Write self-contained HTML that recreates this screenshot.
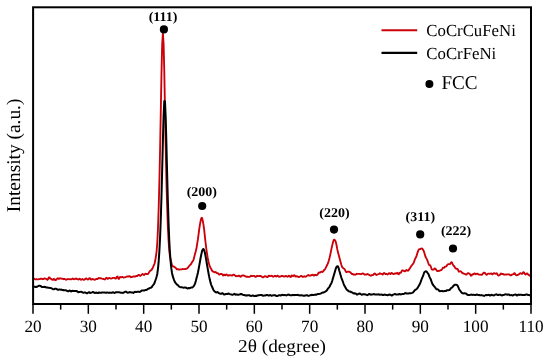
<!DOCTYPE html>
<html><head><meta charset="utf-8"><title>XRD</title>
<style>html,body{margin:0;padding:0;background:#fff;} svg{display:block;text-rendering:geometricPrecision;}</style>
</head><body>
<svg width="550" height="362" viewBox="0 0 550 362">
<rect width="550" height="362" fill="#fff"/>
<g fill="none" stroke-linejoin="round" stroke-linecap="round">
<path d="M33.4,279.0 L34.1,278.7 L34.8,279.2 L35.5,279.3 L36.2,279.0 L36.9,279.3 L37.6,279.4 L38.3,279.3 L39.0,279.2 L39.7,279.1 L40.4,278.7 L41.1,278.6 L41.8,278.9 L42.5,279.2 L43.2,279.1 L43.9,278.7 L44.6,278.5 L45.3,278.7 L46.0,278.9 L46.7,279.2 L47.4,279.9 L48.1,279.2 L48.8,277.4 L49.5,277.4 L50.2,278.4 L50.9,278.9 L51.6,279.1 L52.3,279.8 L53.0,279.9 L53.7,278.9 L54.4,279.1 L55.1,280.2 L55.8,280.1 L56.5,279.5 L57.2,278.6 L57.9,278.2 L58.6,278.8 L59.3,278.9 L60.0,278.3 L60.7,278.4 L61.4,278.7 L62.1,278.6 L62.8,278.9 L63.5,279.2 L64.2,279.0 L64.9,279.0 L65.6,279.5 L66.3,279.8 L67.0,279.3 L67.7,279.0 L68.4,279.2 L69.1,279.3 L69.8,279.2 L70.5,279.1 L71.2,279.4 L71.9,279.1 L72.6,278.5 L73.3,278.8 L74.0,279.3 L74.7,279.2 L75.4,278.6 L76.1,278.5 L76.8,279.0 L77.5,279.2 L78.2,279.5 L78.9,279.3 L79.6,278.7 L80.3,279.3 L81.0,279.9 L81.7,279.3 L82.4,279.0 L83.1,279.5 L83.8,279.9 L84.5,279.7 L85.2,279.0 L85.9,278.4 L86.6,278.7 L87.3,279.2 L88.0,279.6 L88.7,279.1 L89.4,278.1 L90.1,278.4 L90.8,279.5 L91.5,279.6 L92.2,279.0 L92.9,279.1 L93.6,279.4 L94.3,279.7 L95.0,279.7 L95.7,279.3 L96.4,278.9 L97.1,279.1 L97.8,278.8 L98.5,278.0 L99.2,278.2 L99.9,278.4 L100.6,278.2 L101.3,278.4 L102.0,278.7 L102.7,278.9 L103.4,279.0 L104.1,279.2 L104.8,279.5 L105.5,278.8 L106.2,277.8 L106.9,277.9 L107.6,278.9 L108.3,278.6 L109.0,278.0 L109.7,278.2 L110.4,278.4 L111.1,278.6 L111.8,278.4 L112.5,278.0 L113.2,277.9 L113.9,277.9 L114.6,277.8 L115.3,278.5 L116.0,278.5 L116.7,276.9 L117.4,276.4 L118.1,278.1 L118.8,279.0 L119.5,277.5 L120.2,276.9 L120.9,277.4 L121.6,277.1 L122.3,276.9 L123.0,277.3 L123.7,277.5 L124.4,277.3 L125.1,277.3 L125.8,277.0 L126.5,276.6 L127.2,276.5 L127.9,276.5 L128.6,276.5 L129.3,276.1 L130.0,276.4 L130.7,277.3 L131.4,277.1 L132.1,276.8 L132.8,276.8 L133.5,276.4 L134.2,276.4 L134.9,276.6 L135.6,276.3 L136.3,275.9 L137.0,276.1 L137.7,275.7 L138.4,275.0 L139.1,274.9 L139.8,275.6 L140.5,275.9 L141.2,275.2 L141.9,274.4 L142.6,273.9 L143.3,274.5 L144.0,275.0 L144.7,274.3 L145.4,273.7 L146.1,273.9 L146.8,274.0 L147.5,274.1 L148.2,273.9 L148.9,272.6 L149.6,271.4 L150.3,270.8 L151.0,270.3 L151.7,269.6 L152.4,268.6 L153.1,267.0 L153.8,265.3 L154.5,263.8 L155.2,260.8 L155.9,256.5 L156.6,251.3 L157.3,242.4 L158.0,228.0 L158.7,207.3 L159.4,180.8 L160.1,148.7 L160.8,110.7 L161.5,72.4 L162.2,43.8 L162.9,33.0 L163.6,43.6 L164.3,72.2 L165.0,109.5 L165.7,147.4 L166.4,179.8 L167.1,205.3 L167.8,225.3 L168.5,239.8 L169.2,249.8 L169.9,256.1 L170.6,259.6 L171.3,262.2 L172.0,265.1 L172.7,266.4 L173.4,266.3 L174.1,266.8 L174.8,267.4 L175.5,267.7 L176.2,268.5 L176.9,269.4 L177.6,269.2 L178.3,269.2 L179.0,269.6 L179.7,269.5 L180.4,269.4 L181.1,269.4 L181.8,269.3 L182.5,269.0 L183.2,269.1 L183.9,269.2 L184.6,269.1 L185.3,269.0 L186.0,268.9 L186.7,268.7 L187.4,268.1 L188.1,267.3 L188.8,266.5 L189.5,265.6 L190.2,264.9 L190.9,264.3 L191.6,263.0 L192.3,261.8 L193.0,260.9 L193.7,259.3 L194.4,256.4 L195.1,253.5 L195.8,251.3 L196.5,248.0 L197.2,243.6 L197.9,239.4 L198.6,234.1 L199.3,228.6 L200.0,224.2 L200.7,220.6 L201.4,218.0 L202.1,218.0 L202.8,221.0 L203.5,224.8 L204.2,229.9 L204.9,236.6 L205.6,242.9 L206.3,248.5 L207.0,253.4 L207.7,257.7 L208.4,261.2 L209.1,264.0 L209.8,266.4 L210.5,267.8 L211.2,268.9 L211.9,270.4 L212.6,271.4 L213.3,271.6 L214.0,272.0 L214.7,272.4 L215.4,272.0 L216.1,272.4 L216.8,273.0 L217.5,273.1 L218.2,273.6 L218.9,274.3 L219.6,274.5 L220.3,274.0 L221.0,274.0 L221.7,274.0 L222.4,274.3 L223.1,275.6 L223.8,275.1 L224.5,274.6 L225.2,275.3 L225.9,274.8 L226.6,274.4 L227.3,275.3 L228.0,275.7 L228.7,275.2 L229.4,275.2 L230.1,275.3 L230.8,275.2 L231.5,275.5 L232.2,275.5 L232.9,274.9 L233.6,274.6 L234.3,274.9 L235.0,275.4 L235.7,276.0 L236.4,276.2 L237.1,276.2 L237.8,276.1 L238.5,275.7 L239.2,275.6 L239.9,276.4 L240.6,276.8 L241.3,276.0 L242.0,275.5 L242.7,275.6 L243.4,275.5 L244.1,275.6 L244.8,275.9 L245.5,276.4 L246.2,276.8 L246.9,276.7 L247.6,276.7 L248.3,276.8 L249.0,276.8 L249.7,276.9 L250.4,276.3 L251.1,275.8 L251.8,276.1 L252.5,276.0 L253.2,275.8 L253.9,275.8 L254.6,276.1 L255.3,276.9 L256.0,276.8 L256.7,276.0 L257.4,275.9 L258.1,276.1 L258.8,276.1 L259.5,275.8 L260.2,275.8 L260.9,276.1 L261.6,276.5 L262.3,277.2 L263.0,277.4 L263.7,276.9 L264.4,276.4 L265.1,276.1 L265.8,276.5 L266.5,276.7 L267.2,277.1 L267.9,276.8 L268.6,275.7 L269.3,275.7 L270.0,276.1 L270.7,276.1 L271.4,275.7 L272.1,275.8 L272.8,276.5 L273.5,276.7 L274.2,276.3 L274.9,275.8 L275.6,276.0 L276.3,276.6 L277.0,276.1 L277.7,275.6 L278.4,276.3 L279.1,276.9 L279.8,276.7 L280.5,276.5 L281.2,276.2 L281.9,276.0 L282.6,276.0 L283.3,276.2 L284.0,276.6 L284.7,276.6 L285.4,276.0 L286.1,275.9 L286.8,276.4 L287.5,276.8 L288.2,276.4 L288.9,275.7 L289.6,276.1 L290.3,277.0 L291.0,276.8 L291.7,275.5 L292.4,275.6 L293.1,276.2 L293.8,275.4 L294.5,275.2 L295.2,276.3 L295.9,276.6 L296.6,276.2 L297.3,276.3 L298.0,276.8 L298.7,277.0 L299.4,276.9 L300.1,276.5 L300.8,276.0 L301.5,275.9 L302.2,276.5 L302.9,277.0 L303.6,276.7 L304.3,276.2 L305.0,276.6 L305.7,276.7 L306.4,276.2 L307.1,275.8 L307.8,275.4 L308.5,275.0 L309.2,275.6 L309.9,275.7 L310.6,275.5 L311.3,275.4 L312.0,274.8 L312.7,274.6 L313.4,275.3 L314.1,275.6 L314.8,274.8 L315.5,274.9 L316.2,275.3 L316.9,275.1 L317.6,274.6 L318.3,273.1 L319.0,272.4 L319.7,272.8 L320.4,272.4 L321.1,271.8 L321.8,271.6 L322.5,272.0 L323.2,271.4 L323.9,270.3 L324.6,269.7 L325.3,268.7 L326.0,267.3 L326.7,265.9 L327.4,264.5 L328.1,262.9 L328.8,260.6 L329.5,258.0 L330.2,255.1 L330.9,251.5 L331.6,248.1 L332.3,245.1 L333.0,242.2 L333.7,240.0 L334.4,239.6 L335.1,240.3 L335.8,241.9 L336.5,245.0 L337.2,248.9 L337.9,252.1 L338.6,254.5 L339.3,257.2 L340.0,259.8 L340.7,262.4 L341.4,265.0 L342.1,266.9 L342.8,267.8 L343.5,268.3 L344.2,268.7 L344.9,269.7 L345.6,271.2 L346.3,272.2 L347.0,272.1 L347.7,271.6 L348.4,271.7 L349.1,271.7 L349.8,271.9 L350.5,272.4 L351.2,273.4 L351.9,274.0 L352.6,274.0 L353.3,274.5 L354.0,274.7 L354.7,274.4 L355.4,274.7 L356.1,274.4 L356.8,273.8 L357.5,273.9 L358.2,273.9 L358.9,273.8 L359.6,273.9 L360.3,274.2 L361.0,274.1 L361.7,273.8 L362.4,273.5 L363.1,273.5 L363.8,274.1 L364.5,274.6 L365.2,274.5 L365.9,274.6 L366.6,274.5 L367.3,274.0 L368.0,274.1 L368.7,274.7 L369.4,275.0 L370.1,275.4 L370.8,275.7 L371.5,275.2 L372.2,275.1 L372.9,275.2 L373.6,274.4 L374.3,273.6 L375.0,273.5 L375.7,274.4 L376.4,275.0 L377.1,274.7 L377.8,274.3 L378.5,274.2 L379.2,273.9 L379.9,273.3 L380.6,273.8 L381.3,273.9 L382.0,274.0 L382.7,274.6 L383.4,273.7 L384.1,272.9 L384.8,273.5 L385.5,274.1 L386.2,274.0 L386.9,274.2 L387.6,274.5 L388.3,273.9 L389.0,273.1 L389.7,273.6 L390.4,274.1 L391.1,273.3 L391.8,272.9 L392.5,273.5 L393.2,274.0 L393.9,274.0 L394.6,273.6 L395.3,273.2 L396.0,273.6 L396.7,273.3 L397.4,272.8 L398.1,273.9 L398.8,274.2 L399.5,272.9 L400.2,272.7 L400.9,272.7 L401.6,271.3 L402.3,270.3 L403.0,270.5 L403.7,270.8 L404.4,271.1 L405.1,271.3 L405.8,270.7 L406.5,269.9 L407.2,270.4 L407.9,270.8 L408.6,270.2 L409.3,269.1 L410.0,268.1 L410.7,267.0 L411.4,265.8 L412.1,265.0 L412.8,264.2 L413.5,263.2 L414.2,261.4 L414.9,259.2 L415.6,258.1 L416.3,256.7 L417.0,254.2 L417.7,252.1 L418.4,250.3 L419.1,249.1 L419.8,249.1 L420.5,249.1 L421.2,248.6 L421.9,248.4 L422.6,249.1 L423.3,250.2 L424.0,251.7 L424.7,254.1 L425.4,256.5 L426.1,257.9 L426.8,259.1 L427.5,260.7 L428.2,262.8 L428.9,264.7 L429.6,265.1 L430.3,265.4 L431.0,267.3 L431.7,269.2 L432.4,269.7 L433.1,269.8 L433.8,269.4 L434.5,268.5 L435.2,268.5 L435.9,269.3 L436.6,270.3 L437.3,271.0 L438.0,271.0 L438.7,270.9 L439.4,270.9 L440.1,270.4 L440.8,270.1 L441.5,270.1 L442.2,268.9 L442.9,267.6 L443.6,267.9 L444.3,267.7 L445.0,266.6 L445.7,266.6 L446.4,266.4 L447.1,265.1 L447.8,264.3 L448.5,264.1 L449.2,264.1 L449.9,264.2 L450.6,263.3 L451.3,262.1 L452.0,262.5 L452.7,264.2 L453.4,265.6 L454.1,266.1 L454.8,267.1 L455.5,268.4 L456.2,268.7 L456.9,268.7 L457.6,269.0 L458.3,270.5 L459.0,271.7 L459.7,271.4 L460.4,271.2 L461.1,271.6 L461.8,272.5 L462.5,273.2 L463.2,273.2 L463.9,273.6 L464.6,273.9 L465.3,274.2 L466.0,274.6 L466.7,274.3 L467.4,273.5 L468.1,273.1 L468.8,273.3 L469.5,273.7 L470.2,274.5 L470.9,275.7 L471.6,275.5 L472.3,274.3 L473.0,274.2 L473.7,274.3 L474.4,273.4 L475.1,273.6 L475.8,274.3 L476.5,273.8 L477.2,273.6 L477.9,274.1 L478.6,274.5 L479.3,274.6 L480.0,274.6 L480.7,274.7 L481.4,274.7 L482.1,274.7 L482.8,273.8 L483.5,272.9 L484.2,272.6 L484.9,272.9 L485.6,273.9 L486.3,274.8 L487.0,274.6 L487.7,273.8 L488.4,273.6 L489.1,273.7 L489.8,273.9 L490.5,273.7 L491.2,273.4 L491.9,274.1 L492.6,274.3 L493.3,273.5 L494.0,273.2 L494.7,273.4 L495.4,273.8 L496.1,273.6 L496.8,273.2 L497.5,274.5 L498.2,275.5 L498.9,275.3 L499.6,275.1 L500.3,274.2 L501.0,273.5 L501.7,274.1 L502.4,274.0 L503.1,273.9 L503.8,274.6 L504.5,274.7 L505.2,274.5 L505.9,274.6 L506.6,274.5 L507.3,274.4 L508.0,274.4 L508.7,274.3 L509.4,274.5 L510.1,275.1 L510.8,275.4 L511.5,275.1 L512.2,274.4 L512.9,274.3 L513.6,274.2 L514.3,273.1 L515.0,273.6 L515.7,274.9 L516.4,275.3 L517.1,275.1 L517.8,274.8 L518.5,274.6 L519.2,274.0 L519.9,273.3 L520.6,273.2 L521.3,273.7 L522.0,274.0 L522.7,273.2 L523.4,272.1 L524.1,272.5 L524.8,273.9 L525.5,274.5 L526.2,274.1 L526.9,273.4 L527.6,273.7 L528.3,274.8 L529.0,275.0 L529.7,275.6 L530.4,275.9" stroke="#cc0008" stroke-width="1.85"/>
<path d="M33.4,286.4 L34.1,286.6 L34.8,286.8 L35.5,287.0 L36.2,287.0 L36.9,286.7 L37.6,286.5 L38.3,286.1 L39.0,285.7 L39.7,285.7 L40.4,285.9 L41.1,286.4 L41.8,286.9 L42.5,287.0 L43.2,286.9 L43.9,286.9 L44.6,286.8 L45.3,286.9 L46.0,287.4 L46.7,287.5 L47.4,287.6 L48.1,287.7 L48.8,287.7 L49.5,287.9 L50.2,288.1 L50.9,288.1 L51.6,288.3 L52.3,288.8 L53.0,289.2 L53.7,289.3 L54.4,289.0 L55.1,288.7 L55.8,288.7 L56.5,288.9 L57.2,289.4 L57.9,289.8 L58.6,289.7 L59.3,289.5 L60.0,289.6 L60.7,289.7 L61.4,289.6 L62.1,289.9 L62.8,290.2 L63.5,290.1 L64.2,290.2 L64.9,290.3 L65.6,290.2 L66.3,290.4 L67.0,290.8 L67.7,291.2 L68.4,291.2 L69.1,290.7 L69.8,290.5 L70.5,291.2 L71.2,291.4 L71.9,290.9 L72.6,290.8 L73.3,290.9 L74.0,290.9 L74.7,290.9 L75.4,290.9 L76.1,291.0 L76.8,291.1 L77.5,291.6 L78.2,292.2 L78.9,292.1 L79.6,292.1 L80.3,291.9 L81.0,291.7 L81.7,291.9 L82.4,292.4 L83.1,292.7 L83.8,292.7 L84.5,292.4 L85.2,292.4 L85.9,292.8 L86.6,293.3 L87.3,293.3 L88.0,292.7 L88.7,292.2 L89.4,292.3 L90.1,292.9 L90.8,292.8 L91.5,292.6 L92.2,292.3 L92.9,291.9 L93.6,292.1 L94.3,292.8 L95.0,293.0 L95.7,292.7 L96.4,292.6 L97.1,293.0 L97.8,293.1 L98.5,292.6 L99.2,292.5 L99.9,292.7 L100.6,292.8 L101.3,292.7 L102.0,292.5 L102.7,292.4 L103.4,292.5 L104.1,292.5 L104.8,292.5 L105.5,292.7 L106.2,292.7 L106.9,292.5 L107.6,292.6 L108.3,292.8 L109.0,292.7 L109.7,292.6 L110.4,292.8 L111.1,292.8 L111.8,292.7 L112.5,292.5 L113.2,292.3 L113.9,292.7 L114.6,293.0 L115.3,292.6 L116.0,292.2 L116.7,292.3 L117.4,292.3 L118.1,292.3 L118.8,292.3 L119.5,292.3 L120.2,292.6 L120.9,292.7 L121.6,292.7 L122.3,292.8 L123.0,292.9 L123.7,292.6 L124.4,292.1 L125.1,291.8 L125.8,291.6 L126.5,291.9 L127.2,292.5 L127.9,292.7 L128.6,292.6 L129.3,292.2 L130.0,292.1 L130.7,292.3 L131.4,292.6 L132.1,292.5 L132.8,292.6 L133.5,292.9 L134.2,292.3 L134.9,291.8 L135.6,292.0 L136.3,292.1 L137.0,291.8 L137.7,291.7 L138.4,291.8 L139.1,291.8 L139.8,291.9 L140.5,291.6 L141.2,290.8 L141.9,290.4 L142.6,290.5 L143.3,290.6 L144.0,290.6 L144.7,290.3 L145.4,290.0 L146.1,290.0 L146.8,289.8 L147.5,289.1 L148.2,288.8 L148.9,288.6 L149.6,288.1 L150.3,287.8 L151.0,287.7 L151.7,287.2 L152.4,286.0 L153.1,285.1 L153.8,284.4 L154.5,283.0 L155.2,281.0 L155.9,279.0 L156.6,276.8 L157.3,273.7 L158.0,268.6 L158.7,260.9 L159.4,250.6 L160.1,237.0 L160.8,218.5 L161.5,195.5 L162.2,168.9 L162.9,140.5 L163.6,115.8 L164.3,101.0 L165.0,101.6 L165.7,118.1 L166.4,143.9 L167.1,172.6 L167.8,199.1 L168.5,221.3 L169.2,239.2 L169.9,252.1 L170.6,261.3 L171.3,268.2 L172.0,272.9 L172.7,275.9 L173.4,278.2 L174.1,280.1 L174.8,281.8 L175.5,282.9 L176.2,283.7 L176.9,284.5 L177.6,284.8 L178.3,285.6 L179.0,286.5 L179.7,286.9 L180.4,287.2 L181.1,287.2 L181.8,287.2 L182.5,287.4 L183.2,287.7 L183.9,287.7 L184.6,287.6 L185.3,287.6 L186.0,287.7 L186.7,288.1 L187.4,288.5 L188.1,288.3 L188.8,288.0 L189.5,288.2 L190.2,288.0 L190.9,287.6 L191.6,287.6 L192.3,287.5 L193.0,286.9 L193.7,286.1 L194.4,285.0 L195.1,283.4 L195.8,281.0 L196.5,278.2 L197.2,275.6 L197.9,272.7 L198.6,269.1 L199.3,265.4 L200.0,261.4 L200.7,257.5 L201.4,254.0 L202.1,251.0 L202.8,249.3 L203.5,249.0 L204.2,250.2 L204.9,252.8 L205.6,256.4 L206.3,260.4 L207.0,264.5 L207.7,268.7 L208.4,272.7 L209.1,276.4 L209.8,279.6 L210.5,282.4 L211.2,284.8 L211.9,286.4 L212.6,288.0 L213.3,289.7 L214.0,290.8 L214.7,291.4 L215.4,292.0 L216.1,292.5 L216.8,292.2 L217.5,292.1 L218.2,292.6 L218.9,293.1 L219.6,293.5 L220.3,293.7 L221.0,293.8 L221.7,293.5 L222.4,293.2 L223.1,293.6 L223.8,294.4 L224.5,294.5 L225.2,294.2 L225.9,294.0 L226.6,293.9 L227.3,294.0 L228.0,293.7 L228.7,293.5 L229.4,293.9 L230.1,294.2 L230.8,294.4 L231.5,294.6 L232.2,294.7 L232.9,294.7 L233.6,294.4 L234.3,293.8 L235.0,294.2 L235.7,294.7 L236.4,294.5 L237.1,294.5 L237.8,294.7 L238.5,294.7 L239.2,294.6 L239.9,294.3 L240.6,294.0 L241.3,294.0 L242.0,294.3 L242.7,294.7 L243.4,294.9 L244.1,294.9 L244.8,295.2 L245.5,295.6 L246.2,295.5 L246.9,295.3 L247.6,295.4 L248.3,295.2 L249.0,295.2 L249.7,295.5 L250.4,295.8 L251.1,295.9 L251.8,295.8 L252.5,295.4 L253.2,295.5 L253.9,296.0 L254.6,295.9 L255.3,295.8 L256.0,296.0 L256.7,295.9 L257.4,295.4 L258.1,295.2 L258.8,295.4 L259.5,295.1 L260.2,294.9 L260.9,294.9 L261.6,294.9 L262.3,295.4 L263.0,295.8 L263.7,295.6 L264.4,295.5 L265.1,295.5 L265.8,295.3 L266.5,295.0 L267.2,295.0 L267.9,295.2 L268.6,295.6 L269.3,295.5 L270.0,295.0 L270.7,295.2 L271.4,295.7 L272.1,295.7 L272.8,295.4 L273.5,295.2 L274.2,295.3 L274.9,295.1 L275.6,295.4 L276.3,296.0 L277.0,296.1 L277.7,295.8 L278.4,295.5 L279.1,295.2 L279.8,295.2 L280.5,295.5 L281.2,295.3 L281.9,295.0 L282.6,294.8 L283.3,295.1 L284.0,295.2 L284.7,294.9 L285.4,295.1 L286.1,295.4 L286.8,295.3 L287.5,294.8 L288.2,294.6 L288.9,294.7 L289.6,295.0 L290.3,295.2 L291.0,295.2 L291.7,295.3 L292.4,295.0 L293.1,294.9 L293.8,295.2 L294.5,295.0 L295.2,294.9 L295.9,295.1 L296.6,295.1 L297.3,294.8 L298.0,295.0 L298.7,295.2 L299.4,295.3 L300.1,295.4 L300.8,295.3 L301.5,295.3 L302.2,295.5 L302.9,295.6 L303.6,295.7 L304.3,295.7 L305.0,295.5 L305.7,295.5 L306.4,295.3 L307.1,295.2 L307.8,295.6 L308.5,295.9 L309.2,295.6 L309.9,295.3 L310.6,295.3 L311.3,295.0 L312.0,294.8 L312.7,294.9 L313.4,295.0 L314.1,294.9 L314.8,294.7 L315.5,294.6 L316.2,294.7 L316.9,294.5 L317.6,294.1 L318.3,294.0 L319.0,294.1 L319.7,293.9 L320.4,293.6 L321.1,293.3 L321.8,292.9 L322.5,292.6 L323.2,292.5 L323.9,292.4 L324.6,292.0 L325.3,291.6 L326.0,291.2 L326.7,290.6 L327.4,289.5 L328.1,288.4 L328.8,287.7 L329.5,286.7 L330.2,285.3 L330.9,284.1 L331.6,282.6 L332.3,280.5 L333.0,278.1 L333.7,275.7 L334.4,273.4 L335.1,271.0 L335.8,268.5 L336.5,266.9 L337.2,266.3 L337.9,266.3 L338.6,268.0 L339.3,270.7 L340.0,272.9 L340.7,275.4 L341.4,277.8 L342.1,279.7 L342.8,281.5 L343.5,283.5 L344.2,285.3 L344.9,286.5 L345.6,287.7 L346.3,289.0 L347.0,289.9 L347.7,290.3 L348.4,291.0 L349.1,291.5 L349.8,291.4 L350.5,291.6 L351.2,292.2 L351.9,292.3 L352.6,292.6 L353.3,293.3 L354.0,293.5 L354.7,293.3 L355.4,293.4 L356.1,293.8 L356.8,294.4 L357.5,294.5 L358.2,294.0 L358.9,293.7 L359.6,293.6 L360.3,293.7 L361.0,294.3 L361.7,294.8 L362.4,294.6 L363.1,294.2 L363.8,294.2 L364.5,294.3 L365.2,294.5 L365.9,294.6 L366.6,294.9 L367.3,295.2 L368.0,294.8 L368.7,294.2 L369.4,293.9 L370.1,294.3 L370.8,294.7 L371.5,294.5 L372.2,294.4 L372.9,294.3 L373.6,294.1 L374.3,294.2 L375.0,294.5 L375.7,294.5 L376.4,294.5 L377.1,294.6 L377.8,294.4 L378.5,294.3 L379.2,294.5 L379.9,294.8 L380.6,294.6 L381.3,294.4 L382.0,294.6 L382.7,295.1 L383.4,295.1 L384.1,294.7 L384.8,294.6 L385.5,294.8 L386.2,295.0 L386.9,295.1 L387.6,295.2 L388.3,295.0 L389.0,294.6 L389.7,294.5 L390.4,294.8 L391.1,295.1 L391.8,295.6 L392.5,295.2 L393.2,294.6 L393.9,294.4 L394.6,294.1 L395.3,294.0 L396.0,294.6 L396.7,294.6 L397.4,294.5 L398.1,294.6 L398.8,294.2 L399.5,294.0 L400.2,294.3 L400.9,294.4 L401.6,294.2 L402.3,294.1 L403.0,294.1 L403.7,294.0 L404.4,293.6 L405.1,293.1 L405.8,293.2 L406.5,293.5 L407.2,293.5 L407.9,293.6 L408.6,293.6 L409.3,293.2 L410.0,293.2 L410.7,293.3 L411.4,293.1 L412.1,292.9 L412.8,292.6 L413.5,291.8 L414.2,291.0 L414.9,290.2 L415.6,289.6 L416.3,289.3 L417.0,288.6 L417.7,287.6 L418.4,286.5 L419.1,285.3 L419.8,284.0 L420.5,282.3 L421.2,280.4 L421.9,278.5 L422.6,276.9 L423.3,275.1 L424.0,273.0 L424.7,271.8 L425.4,271.5 L426.1,271.3 L426.8,271.7 L427.5,272.8 L428.2,273.7 L428.9,275.2 L429.6,277.1 L430.3,278.4 L431.0,280.0 L431.7,282.2 L432.4,283.9 L433.1,285.0 L433.8,285.8 L434.5,286.6 L435.2,287.5 L435.9,288.6 L436.6,289.3 L437.3,289.3 L438.0,289.4 L438.7,290.2 L439.4,291.0 L440.1,291.2 L440.8,291.1 L441.5,290.9 L442.2,291.0 L442.9,291.2 L443.6,291.3 L444.3,291.1 L445.0,291.1 L445.7,291.1 L446.4,290.6 L447.1,290.2 L447.8,290.2 L448.5,290.3 L449.2,290.1 L449.9,289.6 L450.6,288.6 L451.3,287.8 L452.0,287.6 L452.7,286.9 L453.4,285.9 L454.1,285.2 L454.8,284.8 L455.5,284.7 L456.2,284.8 L456.9,284.9 L457.6,285.6 L458.3,287.2 L459.0,288.9 L459.7,290.1 L460.4,291.0 L461.1,292.0 L461.8,292.8 L462.5,293.2 L463.2,293.5 L463.9,293.3 L464.6,293.3 L465.3,293.4 L466.0,293.4 L466.7,294.0 L467.4,294.8 L468.1,295.0 L468.8,295.0 L469.5,295.1 L470.2,294.9 L470.9,294.6 L471.6,294.7 L472.3,294.9 L473.0,294.8 L473.7,294.7 L474.4,294.9 L475.1,295.0 L475.8,294.9 L476.5,294.6 L477.2,294.6 L477.9,295.0 L478.6,295.1 L479.3,295.0 L480.0,295.3 L480.7,295.3 L481.4,295.1 L482.1,295.3 L482.8,295.4 L483.5,295.7 L484.2,295.9 L484.9,295.5 L485.6,295.0 L486.3,295.0 L487.0,295.2 L487.7,295.1 L488.4,294.8 L489.1,294.9 L489.8,295.4 L490.5,295.4 L491.2,294.8 L491.9,294.9 L492.6,295.2 L493.3,295.3 L494.0,295.4 L494.7,295.0 L495.4,294.6 L496.1,294.3 L496.8,294.5 L497.5,295.1 L498.2,295.0 L498.9,294.8 L499.6,294.7 L500.3,294.7 L501.0,295.1 L501.7,295.5 L502.4,295.3 L503.1,294.9 L503.8,295.0 L504.5,294.7 L505.2,294.2 L505.9,294.3 L506.6,294.6 L507.3,294.7 L508.0,294.5 L508.7,294.4 L509.4,294.9 L510.1,295.3 L510.8,295.1 L511.5,295.0 L512.2,295.4 L512.9,295.4 L513.6,294.9 L514.3,294.8 L515.0,294.6 L515.7,294.6 L516.4,295.2 L517.1,295.6 L517.8,294.9 L518.5,294.5 L519.2,294.9 L519.9,294.8 L520.6,294.7 L521.3,294.8 L522.0,294.9 L522.7,294.9 L523.4,295.0 L524.1,295.1 L524.8,295.1 L525.5,294.7 L526.2,294.4 L526.9,294.5 L527.6,294.8 L528.3,295.0 L529.0,295.0 L529.7,295.2 L530.4,295.3" stroke="#000" stroke-width="2.0"/>
</g>
<rect x="33.1" y="7.3" width="497.9" height="296.7" fill="none" stroke="#000" stroke-width="2"/>
<g stroke="#000" stroke-width="1.5"><line x1="33.00" y1="304.00" x2="33.00" y2="313.80"/><line x1="60.67" y1="304.00" x2="60.67" y2="309.60"/><line x1="88.33" y1="304.00" x2="88.33" y2="313.80"/><line x1="116.00" y1="304.00" x2="116.00" y2="309.60"/><line x1="143.67" y1="304.00" x2="143.67" y2="313.80"/><line x1="171.33" y1="304.00" x2="171.33" y2="309.60"/><line x1="199.00" y1="304.00" x2="199.00" y2="313.80"/><line x1="226.67" y1="304.00" x2="226.67" y2="309.60"/><line x1="254.33" y1="304.00" x2="254.33" y2="313.80"/><line x1="282.00" y1="304.00" x2="282.00" y2="309.60"/><line x1="309.67" y1="304.00" x2="309.67" y2="313.80"/><line x1="337.33" y1="304.00" x2="337.33" y2="309.60"/><line x1="365.00" y1="304.00" x2="365.00" y2="313.80"/><line x1="392.67" y1="304.00" x2="392.67" y2="309.60"/><line x1="420.33" y1="304.00" x2="420.33" y2="313.80"/><line x1="448.00" y1="304.00" x2="448.00" y2="309.60"/><line x1="475.67" y1="304.00" x2="475.67" y2="313.80"/><line x1="503.33" y1="304.00" x2="503.33" y2="309.60"/><line x1="531.00" y1="304.00" x2="531.00" y2="313.80"/></g>
<g font-family="'Liberation Serif', serif" font-size="17.2" text-anchor="middle"><text transform="translate(33.00,331.8) scale(1,1.0)">20</text><text transform="translate(88.33,331.8) scale(1,1.0)">30</text><text transform="translate(143.67,331.8) scale(1,1.0)">40</text><text transform="translate(199.00,331.8) scale(1,1.0)">50</text><text transform="translate(254.33,331.8) scale(1,1.0)">60</text><text transform="translate(309.67,331.8) scale(1,1.0)">70</text><text transform="translate(365.00,331.8) scale(1,1.0)">80</text><text transform="translate(420.33,331.8) scale(1,1.0)">90</text><text transform="translate(475.67,331.8) scale(1,1.0)">100</text><text transform="translate(531.00,331.8) scale(1,1.0)">110</text></g>
<text transform="translate(282.0,352.4) scale(1,0.94)" text-anchor="middle" font-family="'Liberation Serif', serif" font-size="19.3">2θ (degree)</text>
<text transform="translate(20.0,212.2) rotate(-90)" font-family="'Liberation Serif', serif" font-size="19.4">Intensity (a.u.)</text>
<line x1="381.5" y1="30.2" x2="417.2" y2="30.2" stroke="#cc0008" stroke-width="2"/>
<line x1="381.5" y1="52.8" x2="417.2" y2="52.8" stroke="#000" stroke-width="2.2"/>
<g font-family="'Liberation Serif', serif" font-size="16.8">
<text transform="translate(426.3,36.3) scale(1,1.01)">CoCrCuFeNi</text>
<text transform="translate(426.3,58.7) scale(1,1.01)">CoCrFeNi</text>
</g>
<circle cx="429.4" cy="84.0" r="4.0" fill="#000"/>
<text transform="translate(441.5,88.9) scale(1,1.02)" font-family="'Liberation Serif', serif" font-size="19.1">FCC</text>
<g font-family="'Liberation Serif', serif" font-size="14" font-weight="bold" text-anchor="middle">
<text transform="translate(163.1,21.1) scale(1,0.95)">(111)</text>
<text transform="translate(201.8,196.0) scale(1,0.95)">(200)</text>
<text transform="translate(334.5,216.9) scale(1,0.95)">(220)</text>
<text transform="translate(420.4,221.1) scale(1,0.95)">(311)</text>
<text transform="translate(456.1,235.2) scale(1,0.95)">(222)</text>
</g>
<g fill="#000">
<circle cx="163.9" cy="29.4" r="4.1"/>
<circle cx="202.2" cy="206" r="4.1"/>
<circle cx="334" cy="229.6" r="4.1"/>
<circle cx="420.2" cy="234.4" r="4.1"/>
<circle cx="453" cy="248.5" r="4.1"/>
</g>
</svg>
</body></html>
